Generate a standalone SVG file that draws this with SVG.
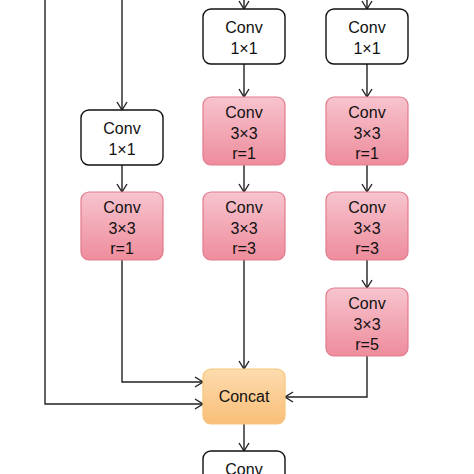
<svg xmlns="http://www.w3.org/2000/svg" width="474" height="474" viewBox="0 0 474 474">
<defs>
<linearGradient id="gp" x1="0" y1="0" x2="0" y2="1"><stop offset="0" stop-color="#f7c4ce"/><stop offset="1" stop-color="#ee8c9c"/></linearGradient>
<linearGradient id="go" x1="0" y1="0" x2="0" y2="1"><stop offset="0" stop-color="#fddcae"/><stop offset="1" stop-color="#f9be78"/></linearGradient>
<marker id="ah" markerWidth="12" markerHeight="12" refX="9" refY="6" orient="auto" markerUnits="userSpaceOnUse"><path d="M1,1 L9,6 L1,11" fill="none" stroke="#222" stroke-width="1.4"/></marker>
<style>
.w{fill:#fff;stroke:#111;stroke-width:1.4}
.p{fill:url(#gp);stroke:#e27a8c;stroke-width:1.2}
.o{fill:url(#go);stroke:#f6c57a;stroke-width:1.2}
text{font-family:"Liberation Sans",Arial,sans-serif;font-size:16px;fill:#111;text-anchor:middle}
.c path{fill:none;stroke:#222;stroke-width:1.4;marker-end:url(#ah)}
</style>
</defs>
<g class="c" id="connectors">
<path d="M45,0 V404 H203"/>
<path d="M122,0 V110"/>
<path d="M122,165 V192"/>
<path d="M122,260 V382 H203"/>
<path d="M244,0 V9"/>
<path d="M244,64 V97"/>
<path d="M244,165 V192"/>
<path d="M244,260 V369"/>
<path d="M367,0 V9"/>
<path d="M367,64 V97"/>
<path d="M367,165 V192"/>
<path d="M367,260 V288"/>
<path d="M367,356 V397 H285"/>
<path d="M244,424 V451"/>
</g>
<g id="b1a"><rect class="w" x="81" y="110" width="82" height="55" rx="8"/><text x="122" y="134">Conv</text><text x="122" y="155">1×1</text></g>
<g id="b1b"><rect class="p" x="81" y="192" width="82" height="68" rx="8"/><text x="122" y="213">Conv</text><text x="122" y="234">3×3</text><text x="122" y="254">r=1</text></g>
<g id="b2a"><rect class="w" x="203" y="9" width="82" height="55" rx="8"/><text x="244" y="33">Conv</text><text x="244" y="54">1×1</text></g>
<g id="b2b"><rect class="p" x="203" y="97" width="82" height="68" rx="8"/><text x="244" y="118">Conv</text><text x="244" y="139">3×3</text><text x="244" y="159">r=1</text></g>
<g id="b2c"><rect class="p" x="203" y="192" width="82" height="68" rx="8"/><text x="244" y="213">Conv</text><text x="244" y="234">3×3</text><text x="244" y="254">r=3</text></g>
<g id="b3a"><rect class="w" x="326" y="9" width="82" height="55" rx="8"/><text x="367" y="33">Conv</text><text x="367" y="54">1×1</text></g>
<g id="b3b"><rect class="p" x="326" y="97" width="82" height="68" rx="8"/><text x="367" y="118">Conv</text><text x="367" y="139">3×3</text><text x="367" y="159">r=1</text></g>
<g id="b3c"><rect class="p" x="326" y="192" width="82" height="68" rx="8"/><text x="367" y="213">Conv</text><text x="367" y="234">3×3</text><text x="367" y="254">r=3</text></g>
<g id="b3d"><rect class="p" x="326" y="288" width="82" height="68" rx="8"/><text x="367" y="309">Conv</text><text x="367" y="330">3×3</text><text x="367" y="350">r=5</text></g>
<g id="concat"><rect class="o" x="203" y="369" width="82" height="55" rx="8"/><text x="244" y="402">Concat</text></g>
<g id="out"><rect class="w" x="203" y="451" width="82" height="55" rx="8"/><text x="244" y="475">Conv</text></g>
</svg>
